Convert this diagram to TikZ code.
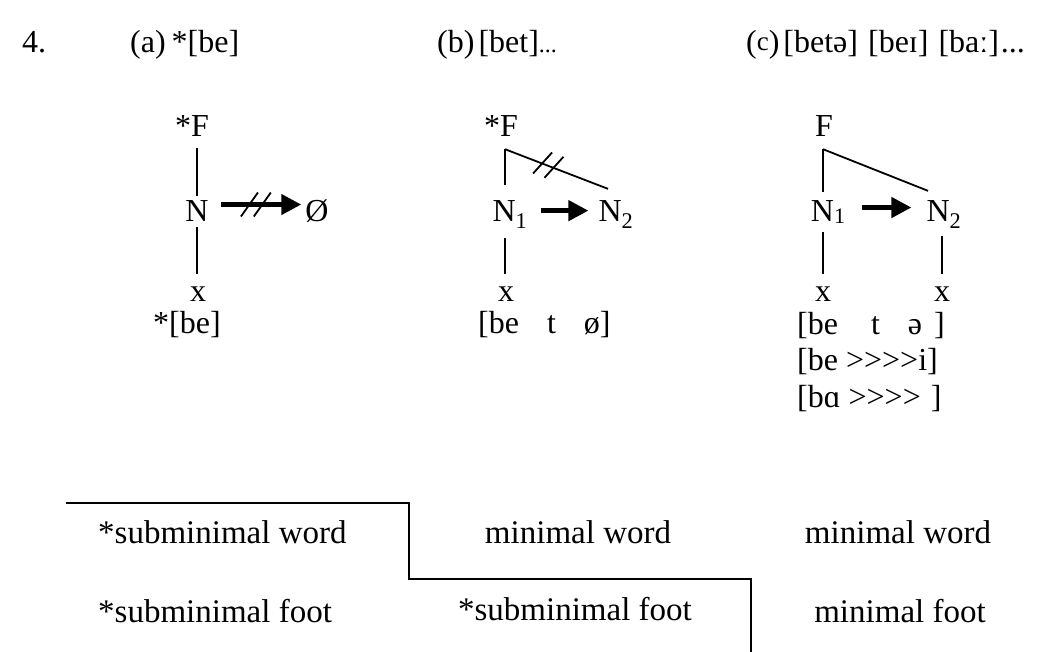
\documentclass[tikz,border=0pt]{standalone}
\usepackage{fontspec}
\setmainfont{Liberation Serif}
\usetikzlibrary{arrows.meta,calc}

\newcommand{\smalldots}{{\fontsize{24}{28}\selectfont ...}}

\tikzset{
  lab/.style={inner sep=0pt,anchor=base,font=\fontsize{32}{38}\selectfont},
  labw/.style={lab,anchor=base west},
  tab/.style={inner sep=0pt,anchor=base,font=\fontsize{33}{40}\selectfont},
  tline/.style={line width=1.8pt},
  slash/.style={line width=1.8pt},
  bigarrow/.style={line width=4.5pt,-{Triangle[length=20pt,width=20pt]}},
  tabline/.style={line width=2.6pt},
}

\begin{document}
\begin{tikzpicture}[line cap=butt,line join=miter,x=1pt,y=-1pt]
\useasboundingbox (0,0) rectangle (1064,652);
% headings
\node[labw] (num) at (22,53) {4.};
\node[labw] (hda) at (130,53) {(a)\hspace{6pt}*[be]};
\node[labw] (hdb) at (437,53) {(b)\hspace{4pt}[bet]\smalldots};
\node[labw] (hdc) at (746,53) {(\raisebox{2pt}{\fontsize{27}{30}\selectfont c})\hspace{4pt}[betə]\hspace{10pt}[beɪ]\hspace{10pt}[baː]\hspace{2pt}...};
% (a)
\node[lab] (Fa) at (192,137) {*F};
\node[lab] (Na) at (197,222) {N};
\node[lab] (Oa) at (317,222) {Ø};
\node[lab] (xa) at (198,301) {x};
\node[lab] (sa) at (187,333) {*[be]};
\draw[tline,shorten <=4.5pt,shorten >=11pt] (Na.north) -- (Na.north |- Fa.south);
\draw[tline,shorten <=5pt,shorten >=12pt] (Na.south) -- (Na.south |- xa.north);
\coordinate (a1) at ($(Na.east)+(12,-7)$);
\coordinate (a2) at ($(a1 -| Oa.west)+(-4,0)$);
\draw[bigarrow] (a1) -- (a2);
\draw[slash] ($(a1)!0.35!(a2)+(-8,12)$) -- +(17,-24);
\draw[slash] ($(a1)!0.51!(a2)+(-8,12)$) -- +(17,-24);
% (b)
\node[lab] (Fb) at (501,137) {*F};
\node[lab] (N1b) at (510,222) {N\textsubscript{1}};
\node[lab] (N2b) at (616,222) {N\textsubscript{2}};
\node[lab] (xb) at (506,301) {x};
\node[labw] (sb) at (478,333) {[be\hspace{28pt}t\hspace{28pt}ø]};
\coordinate (cb) at ($(Fb.south)+(4,12)$);
\coordinate (db) at ($(N2b.north)+(-8,-12)$);
\draw[tline,shorten >=16pt] (cb) -- (cb |- N1b.north);
\draw[tline] (cb) -- (db);
\draw[slash] ($(cb)!0.36!(db)+(-9,10)$) -- +(19,-21);
\draw[slash] ($(cb)!0.47!(db)+(-9,10)$) -- +(19,-21);
\draw[tline,shorten <=10pt,shorten >=12pt] (cb |- N1b.south) -- (cb |- xb.north);
\draw[bigarrow] ($(N1b.east)+(13,-4)$) -- ($(N1b.east -| N2b.west)+(-10,-4)$);
% (c)
\node[lab] (Fc) at (824,137) {F};
\node[lab] (N1c) at (828,222) {N\raisebox{-2pt}{\fontsize{22}{26}\selectfont 1}};
\node[lab] (N2c) at (944,222) {N\textsubscript{2}};
\node[lab] (x1c) at (823,301) {x};
\node[lab] (x2c) at (942,301) {x};
\node[labw] (r1c) at (797,334) {[be\hspace{33pt}t\hspace{28pt}ə\hspace{12pt}]};
\node[labw] (r2c) at (797,370) {[be {>}{>}{>}{>}i]};
\node[labw] (r3c) at (797,407) {[bɑ {>}{>}{>}{>}\hspace{10pt}]};
\coordinate (cc) at ($(Fc.south)+(-1,12)$);
\coordinate (dc) at ($(N2c.north)+(-16,-10)$);
\draw[tline,shorten >=9pt] (cc) -- (cc |- N1c.north);
\draw[tline] (cc) -- (dc);
\draw[tline,shorten <=8pt,shorten >=12pt] (cc |- N1c.south) -- (cc |- x1c.north);
\draw[tline,shorten <=8pt,shorten >=12pt] (x2c.north |- N2c.south) -- (x2c.north);
\draw[bigarrow] ($(N1c.east)+(17,-5)$) -- ($(N1c.east -| N2c.west)+(-15,-5)$);
% table
\draw[tabline] (66,503) -- (409,503) -- (409,579) -- (751,579) -- (751,652);
\node[tab,anchor=base west] (wa) at (98,543) {*subminimal word};
\node[tab] (wb) at (578,543) {minimal word};
\node[tab] (wc) at (898,543) {minimal word};
\node[tab,anchor=base west] (fa) at (98,622) {*subminimal foot};
\node[tab] (fb) at (575,620) {*subminimal foot};
\node[tab] (fc) at (900,622) {minimal foot};
\end{tikzpicture}
\end{document}
